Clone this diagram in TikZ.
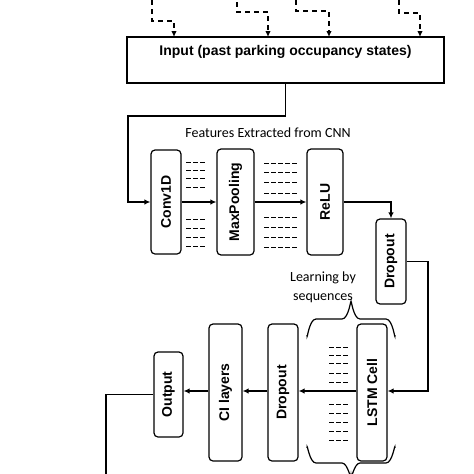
\documentclass[tikz,border=0pt]{standalone}
\usepackage{fontspec}
\setmainfont{Liberation Sans}
\newfontfamily\calfont{Carlito}
\usetikzlibrary{arrows.meta}
\begin{document}
\begin{tikzpicture}[x=1pt,y=-1pt,
  box/.style={draw, line width=1.2pt, rounded corners=4pt, inner sep=0pt, font=\fontsize{14}{16}\selectfont\bfseries},
  ibox/.style={draw, line width=1.2pt, inner sep=0pt},
  conn/.style={line width=1.2pt},
  arr/.style={line width=1.2pt, -{Latex[length=6pt,width=5.5pt]}},
  darr/.style={line width=1.2pt, dash pattern=on 5pt off 4pt, -{Latex[length=6pt,width=5.5pt]}},
  sep/.style={line width=0.8pt, dash pattern=on 5pt off 2pt},
  ann/.style={font=\calfont\fontsize{14}{19}\selectfont, inner sep=0pt, align=center},
  brace/.style={line width=1.2pt}
]
\useasboundingbox (0,0) rectangle (474,474);

% input box
\node[ibox, minimum width=317pt, minimum height=46pt] (input) at (285.5,60) {};
\node[inner sep=0pt, font=\fontsize{14}{16}\selectfont\bfseries] (intext) at (285.5,52) {Input (past parking occupancy states)};

% dashed inputs
\coordinate (s1) at (152,0);
\coordinate (s2) at (237,2);
\coordinate (s3) at (296,0);
\coordinate (s4) at (399,0);
\draw[darr] (s1) |- (174,21) -- (174,37);
\draw[darr] (s2) |- (268,12) -- (268,37);
\draw[darr] (s3) |- (329,11) -- (329,37);
\draw[darr] (s4) |- (420,13) -- (420,37);

% CNN row
\node[ann] (feat) at (268,133) {Features Extracted from CNN};
\node[box, minimum width=30pt, minimum height=104pt] (conv) at (166,202) {\rotatebox{90}{Conv1D}};
\node[box, minimum width=37pt, minimum height=106pt] (maxp) at (235.5,202) {\rotatebox{90}{MaxPooling}};
\node[box, minimum width=36pt, minimum height=106pt] (relu) at (325,202) {\rotatebox{90}{ReLU}};
\node[box, minimum width=30pt, minimum height=85pt] (drop1) at (391,261.5) {\rotatebox{90}{Dropout}};

% LSTM row
\node[box, minimum width=30pt, minimum height=137pt] (lstm) at (372,392.5) {\rotatebox{90}{LSTM Cell}};
\node[box, minimum width=30pt, minimum height=137pt] (drop2) at (283,392.5) {\rotatebox{90}{Dropout}};
\node[box, minimum width=33pt, minimum height=137pt] (ci) at (225.5,392.5) {\rotatebox{90}{CI layers}};
\node[box, minimum width=29pt, minimum height=85pt] (out) at (168.5,394.5) {\rotatebox{90}{Output}};

\node[ann] (learn) at (323,287.5) {Learning by\\sequences};

% connectors
\coordinate (c1) at (128,116);
\draw[arr] (input.south) |- (c1) |- (conv.west);
\draw[arr] (conv.east) -- (maxp.west);
\draw[arr] (maxp.east) -- (relu.west);
\draw[arr] (relu.east) -| (drop1.north);
\coordinate (c2) at (428,391);
\draw[arr] (drop1.east) -| (c2) -- (c2 -| lstm.east);
\draw[arr] (c2 -| lstm.west) -- (c2 -| drop2.east);
\draw[arr] (c2 -| drop2.west) -- (c2 -| ci.east);
\draw[arr] (c2 -| ci.west) -- (c2 -| out.east);
\coordinate (c3) at (106,474);
\draw[conn] (out.west) -| (c3);

% separators
\foreach \y in {162,170,178,187,219,228,237,246}
  \draw[sep] (186,\y) -- (205,\y);
\foreach \y in {163,172,182,193,217,227,237,247}
  \draw[sep] (264,\y) -- (297,\y);
\foreach \y in {347,355,363,373,382,404,413,422,431,440}
  \draw[sep] (329,\y) -- (348,\y);

% braces
\draw[brace] (307,335) to[out=-90,in=180] (316,319) -- (342,319) to[out=0,in=90] (351,303)
  to[out=90,in=180] (360,319) -- (386,319) to[out=0,in=-90] (395,335);
\draw[brace] (307,448) to[out=90,in=180] (316,463) -- (342,463) to[out=0,in=-90] (351,476)
  to[out=-90,in=180] (360,463) -- (386,463) to[out=0,in=90] (395,448);
\end{tikzpicture}
\end{document}
